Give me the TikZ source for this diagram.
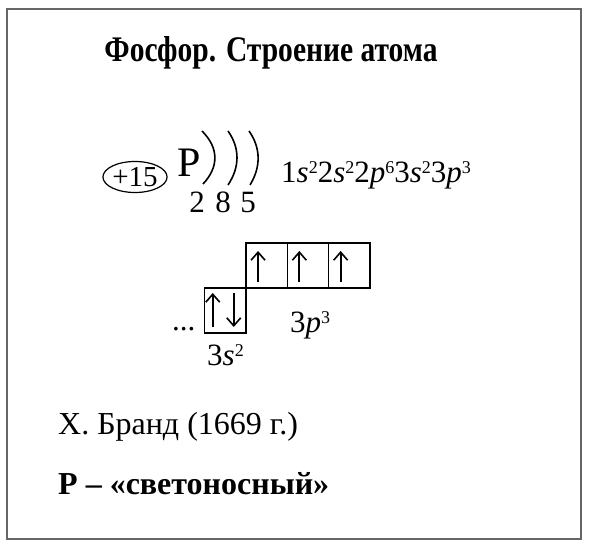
\documentclass[tikz,border=0pt]{standalone}
\usepackage{fontspec}
\setmainfont{Liberation Serif}
\usetikzlibrary{arrows.meta, calc, positioning, shapes.geometric}

\tikzset{
  cell/.style={draw, line width=1.2pt, minimum width=41.3pt, minimum height=45pt, inner sep=0pt, outer sep=0pt},
  spin/.style={line width=1.8pt, -{Straight Barb[length=8pt,width=14pt,line width=1.6pt]}},
  shell/.style={line width=1.6pt},
  txt/.style={inner sep=0pt, anchor=base west, font=\fontsize{31}{31}\selectfont},
}
\newcommand{\up}[1]{\raisebox{9pt}{\fontsize{18}{18}\selectfont #1}}

\begin{document}
\begin{tikzpicture}[x=1pt,y=-1pt]
\useasboundingbox (0,0) rectangle (590,548);
\draw[black!60, line width=2pt] (7,9) rectangle (581,539);

\node[inner sep=0pt, anchor=base, font=\fontsize{36}{36}\selectfont\bfseries] (title) at (271,62) {\scalebox{0.82}[1]{Фосфор. Строение атома}};

% atom
\node[draw, ellipse, line width=1.2pt, inner sep=0pt, minimum width=45pt, minimum height=31pt, font=\fontsize{29}{29}\selectfont] (core) at (135,177) {+15};
\node[txt, font=\fontsize{42}{42}\selectfont] (P) at (177,177) {P};

\draw[shell] (202,131) .. controls (219,148) and (219,167) .. (203,184);
\draw[shell] (228,131) .. controls (240,148) and (240,167) .. (228,185);
\draw[shell] (249,131) .. controls (261,148) and (261,167) .. (250,185);

\node[txt, anchor=base] (n1) at (197,213) {2};
\node[txt, anchor=base] (n2) at (223,213) {8};
\node[txt, anchor=base] (n3) at (248,213) {5};

\node[txt] (conf) at (281,183) {1\textit{s}\up{2}2\textit{s}\up{2}2\textit{p}\up{6}3\textit{s}\up{2}3\textit{p}\up{3}};

% orbitals
\node[cell] (p1) at (266.7,265.5) {};
\node[cell, right=0pt of p1] (p2) {};
\node[cell, right=0pt of p2] (p3) {};
\node[cell, anchor=north east] (s1) at (p1.south west) {};

\foreach \c in {p1,p2,p3}
  \draw[spin] ($(\c.south west)+(12,-6)$) -- ($(\c.north west)+(12,8)$);
\draw[spin] ($(s1.south west)+(8,-6)$) -- ($(s1.north west)+(8,5)$);
\draw[spin] ($(s1.north west)+(29,5)$) -- ($(s1.south west)+(29,-6)$);

\node[txt] (dots) at (172,331) {...};
\node[txt] (lp) at (290,333) {3\textit{p}\up{3}};
\node[txt] (ls) at (207,366) {3\textit{s}\up{2}};

% history
\node[txt, font=\fontsize{32}{32}\selectfont] (brand) at (58,435) {Х. Бранд (1669 г.)};
\node[txt, font=\fontsize{32}{32}\selectfont\bfseries] (name) at (58,495) {P – «светоносный»};
\end{tikzpicture}
\end{document}
